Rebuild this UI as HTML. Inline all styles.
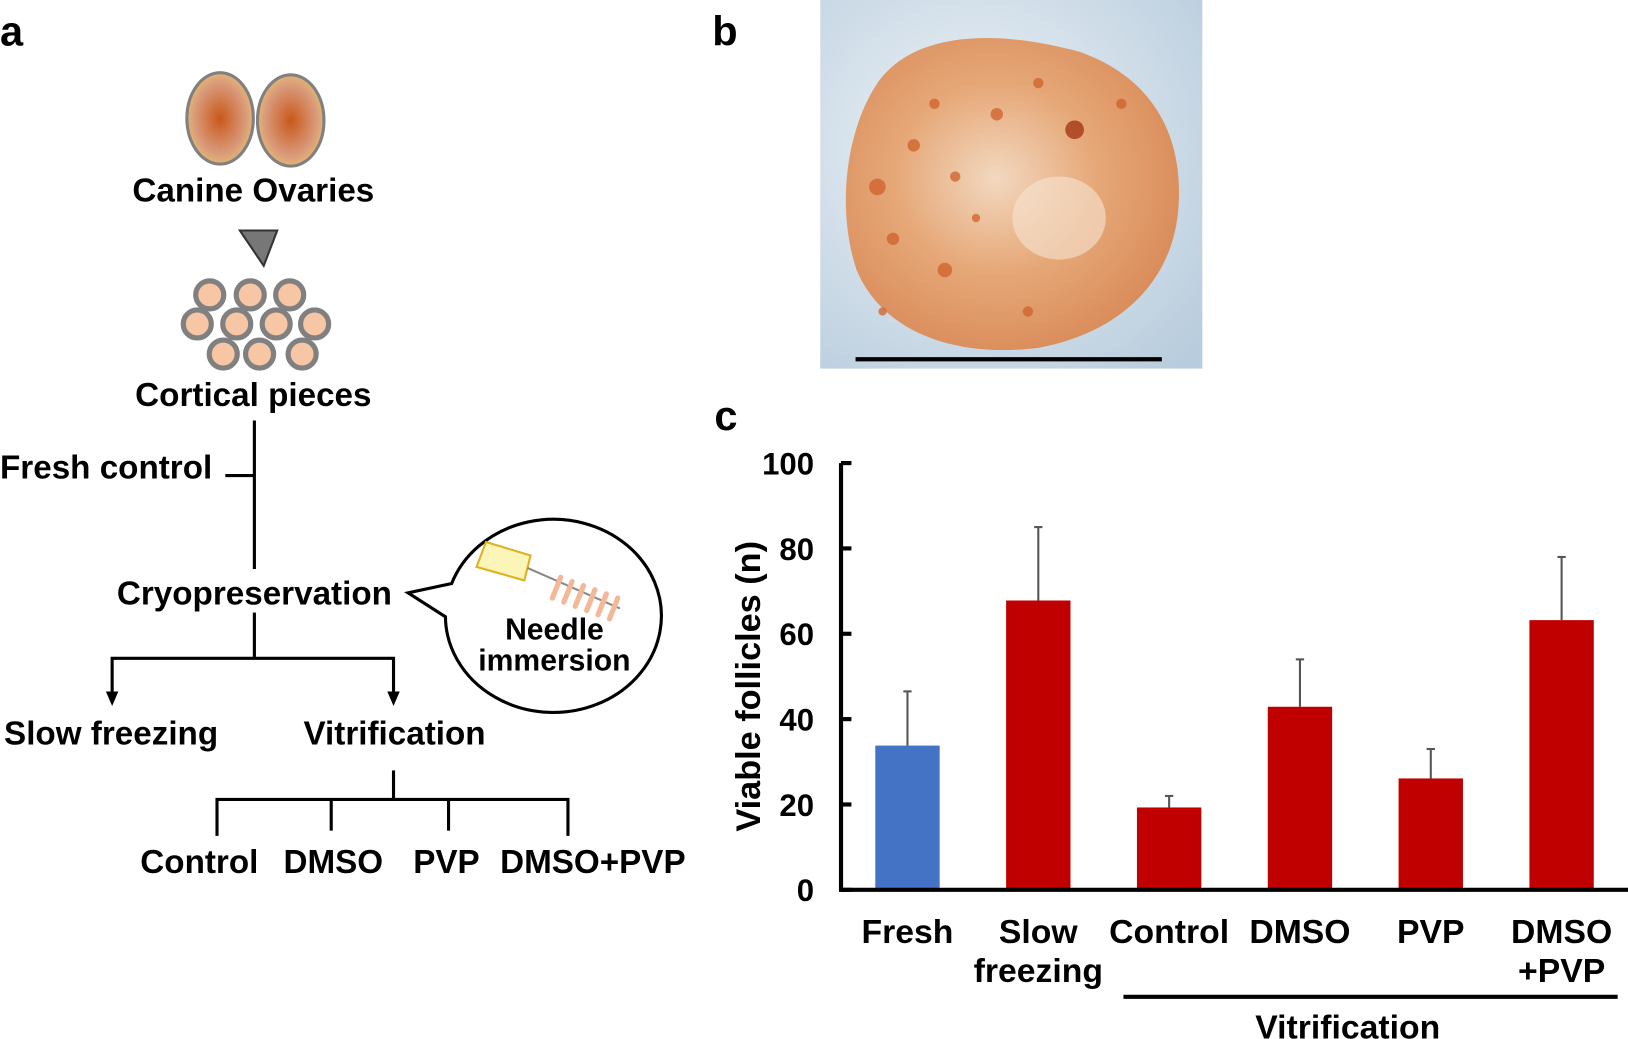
<!DOCTYPE html>
<html><head><meta charset="utf-8"><style>
html,body{margin:0;padding:0;background:#fff;}
svg{display:block;font-family:"Liberation Sans",Arial,sans-serif;font-weight:bold;}
</style></head><body>
<svg width="1628" height="1039" viewBox="0 0 1628 1039">
<defs>
<radialGradient id="ov" cx="50%" cy="50%" r="55%"><stop offset="0" stop-color="#c9581a"/><stop offset="0.7" stop-color="#d99a7a"/><stop offset="1" stop-color="#e8c070"/></radialGradient>
<radialGradient id="bg" cx="40%" cy="40%" r="80%"><stop offset="0" stop-color="#eef3f7"/><stop offset="1" stop-color="#b8ccdd"/></radialGradient>
<radialGradient id="blob" cx="45%" cy="45%" r="60%"><stop offset="0" stop-color="#f2d8c0"/><stop offset="0.5" stop-color="#e6a878"/><stop offset="1" stop-color="#d98a58"/></radialGradient>
</defs>
<g transform="scale(1.0383)">
<!-- panel a -->
<text x="0" y="44" font-size="40">a</text>
<ellipse cx="212" cy="114" rx="32" ry="44" fill="url(#ov)" stroke="#808080" stroke-width="3"/>
<ellipse cx="280" cy="116" rx="32" ry="44" fill="url(#ov)" stroke="#808080" stroke-width="3"/>
<text x="244" y="194" font-size="32" text-anchor="middle">Canine Ovaries</text>
<polygon points="231,222 267,222 254,256" fill="#777" stroke="#333" stroke-width="2"/>
<g fill="#f7c6a4" stroke="#808080" stroke-width="5">
<circle cx="202" cy="284" r="13.5"/><circle cx="241" cy="284" r="13.5"/><circle cx="279" cy="284" r="13.5"/>
<circle cx="190" cy="312" r="13.5"/><circle cx="228" cy="312" r="13.5"/><circle cx="266" cy="312" r="13.5"/><circle cx="303" cy="312" r="13.5"/>
<circle cx="215" cy="341" r="13.5"/><circle cx="250" cy="341" r="13.5"/><circle cx="291" cy="341" r="13.5"/>
</g>
<text x="244" y="391" font-size="32" text-anchor="middle">Cortical pieces</text>
<g stroke="#000" stroke-width="3" fill="none">
<line x1="245" y1="405" x2="245" y2="548"/>
<line x1="217" y1="458" x2="245" y2="458"/>
<line x1="245" y1="590" x2="245" y2="634"/>
<polyline points="108,668 108,634 379,634 379,668"/>
<line x1="379" y1="742" x2="379" y2="770"/>
<polyline points="209,805 209,770 547,770 547,805"/>
<line x1="319" y1="770" x2="319" y2="800"/>
<line x1="432" y1="770" x2="432" y2="800"/>
</g>
<polygon points="102,666 114,666 108,680" fill="#000"/>
<polygon points="373,666 385,666 379,680" fill="#000"/>
<text x="0" y="461" font-size="32">Fresh control</text>
<text x="245" y="582" font-size="32" text-anchor="middle">Cryopreservation</text>
<text x="107" y="717" font-size="32" text-anchor="middle">Slow freezing</text>
<text x="380" y="717" font-size="32" text-anchor="middle">Vitrification</text>
<text x="192" y="841" font-size="32" text-anchor="middle">Control</text>
<text x="321" y="841" font-size="32" text-anchor="middle">DMSO</text>
<text x="430" y="841" font-size="32" text-anchor="middle">PVP</text>
<text x="571" y="841" font-size="32" text-anchor="middle">DMSO+PVP</text>
<path d="M435,562 A104,93 0 1 1 429,594 L393,571 Z" fill="#fff" stroke="#000" stroke-width="3" stroke-linejoin="miter"/>
<polygon points="468,522 511,535 505,559 459,546" fill="#fbf6b8" stroke="#e0b020" stroke-width="2"/>
<line x1="508" y1="547" x2="597" y2="586" stroke="#888" stroke-width="2"/>
<g stroke="#f2b898" stroke-width="5" stroke-linecap="round">
<line x1="532" y1="576" x2="540" y2="556"/><line x1="543" y1="580" x2="551" y2="560"/><line x1="554" y1="584" x2="562" y2="564"/><line x1="565" y1="588" x2="573" y2="568"/><line x1="576" y1="592" x2="584" y2="572"/><line x1="587" y1="596" x2="595" y2="576"/>
</g>
<text x="534" y="616" font-size="29" text-anchor="middle">Needle</text>
<text x="534" y="646" font-size="29" text-anchor="middle">immersion</text>
<!-- panel b -->
<text x="686" y="44" font-size="40">b</text>
<rect x="790" y="0" width="368" height="355" fill="url(#bg)"/>
<path d="M845,80 C880,30 960,28 1040,50 C1110,75 1140,130 1135,200 C1130,270 1080,320 1000,335 C920,345 850,320 825,260 C805,200 815,125 845,80 Z" fill="url(#blob)"/>
<g fill="#d0602a" opacity="0.75">
<circle cx="1035" cy="125" r="9" fill="#a03010"/><circle cx="845" cy="180" r="8"/><circle cx="880" cy="140" r="6"/><circle cx="910" cy="260" r="7"/><circle cx="990" cy="300" r="5"/><circle cx="960" cy="110" r="6"/><circle cx="900" cy="100" r="5"/><circle cx="1080" cy="100" r="5"/><circle cx="860" cy="230" r="6"/><circle cx="940" cy="210" r="4"/><circle cx="1000" cy="80" r="5"/><circle cx="850" cy="300" r="4"/><circle cx="920" cy="170" r="5"/>
</g>
<ellipse cx="1020" cy="210" rx="45" ry="40" fill="#f6e4d2" opacity="0.6"/>
<line x1="824" y1="346" x2="1119" y2="346" stroke="#000" stroke-width="4"/>
<!-- panel c -->
<text x="688" y="414" font-size="40">c</text>
<g id="chart"></g>
</g>
</svg>
<script>
const categories = ["Fresh","Slow freezing","Control","DMSO","PVP","DMSO +PVP"];
const values = [33.8, 67.8, 19.3, 42.9, 26.1, 63.2];
const errors = [12.7, 17.2, 2.7, 11.1, 6.9, 14.8];
const colors = ["#4472c4","#c00000","#c00000","#c00000","#c00000","#c00000"];
const yTicks = [0,20,40,60,80,100];
const NS="http://www.w3.org/2000/svg";
const g=document.getElementById('chart');
const x0=810, y0=857, yTop=446, xStart=874, step=126, bw=62;
const ys=v=>y0-(v/100)*(y0-yTop);
const xs=i=>xStart+i*step;
function mk(t,a){const e=document.createElementNS(NS,t);for(const k in a)e.setAttribute(k,a[k]);g.appendChild(e);return e;}
categories.forEach((c,i)=>{
  const top=ys(values[i]+errors[i]);
  const l=mk('line',{x1:xs(i),x2:xs(i),y1:top,y2:ys(values[i]),stroke:'#555','stroke-width':2});
  
  
  const cap=mk('line',{x1:xs(i)-4,x2:xs(i)+4,y1:top,y2:top,stroke:'#555','stroke-width':2});
  
  
  const r=mk('rect',{x:xs(i)-bw/2,y:ys(values[i]),width:bw,height:y0-ys(values[i]),fill:colors[i]});
  
  
  const parts=c.split(' ');
  parts.forEach((p,j)=>{
    const t=mk('text',{x:xs(i),y:908+j*38,'font-size':32.5,'text-anchor':'middle'});
    t.textContent=p;
    
    
  });
});
const ax=mk('polyline',{points:`${x0},${yTop} ${x0},${y0} 1568,${y0}`,fill:'none',stroke:'#000','stroke-width':4});


yTicks.forEach(v=>{
  const tk=mk('line',{x1:x0,x2:x0+10,y1:ys(v),y2:ys(v),stroke:'#000','stroke-width':4});
  
  
  const t=mk('text',{x:784,y:ys(v)+11,'font-size':30,'text-anchor':'end'});
  t.textContent=v;
  
  
});
const yt=mk('text',{x:0,y:0,'font-size':33,'text-anchor':'middle',transform:'translate(732,661) rotate(-90)'});
yt.textContent='Viable follicles (n)';


const vl=mk('line',{x1:1082,x2:1558,y1:960,y2:960,stroke:'#000','stroke-width':4});


const vt=mk('text',{x:1298,y:1000,'font-size':32.5,'text-anchor':'middle'});
vt.textContent='Vitrification';


</script>
</body></html>
